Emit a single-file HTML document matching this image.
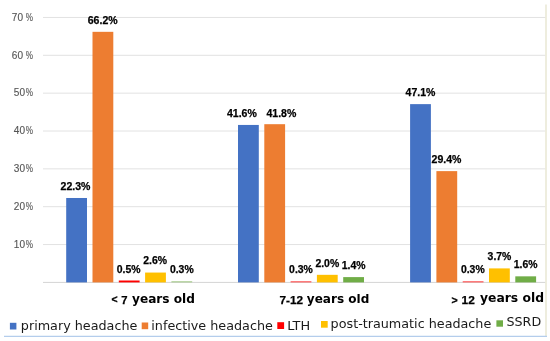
<!DOCTYPE html>
<html><head><meta charset="utf-8"><title>chart</title>
<style>
html,body{margin:0;padding:0;background:#fff;}
body{width:550px;height:341px;overflow:hidden;}
svg{display:block;}
.ax{font-family:"Liberation Sans",sans-serif;font-size:10.4px;fill:#555;stroke:#555;stroke-width:0.12px;}
.dl{font-family:"Liberation Sans",sans-serif;font-size:10.9px;font-weight:bold;fill:#000;stroke:#000;stroke-width:0.25px;text-anchor:middle;}
.cat{font-family:"DejaVu Sans","Liberation Sans",sans-serif;font-size:12.45px;font-weight:bold;fill:#000;}
.catn{font-family:"Liberation Sans",sans-serif;font-size:12px;font-weight:bold;fill:#000;stroke:#000;stroke-width:0.25px;}
.lg{font-family:"DejaVu Sans","Liberation Sans",sans-serif;font-size:12.75px;fill:#1a1a1a;}
</style></head><body>
<svg width="550" height="341" viewBox="0 0 550 341">
<rect width="550" height="341" fill="#fff"/>

<line x1="43" x2="545.5" y1="244.55" y2="244.55" stroke="#e2e2e2" stroke-width="1"/>
<line x1="43" x2="545.5" y1="206.70" y2="206.70" stroke="#e2e2e2" stroke-width="1"/>
<line x1="43" x2="545.5" y1="168.85" y2="168.85" stroke="#e2e2e2" stroke-width="1"/>
<line x1="43" x2="545.5" y1="131.00" y2="131.00" stroke="#e2e2e2" stroke-width="1"/>
<line x1="43" x2="545.5" y1="93.15" y2="93.15" stroke="#e2e2e2" stroke-width="1"/>
<line x1="43" x2="545.5" y1="55.30" y2="55.30" stroke="#e2e2e2" stroke-width="1"/>
<line x1="43" x2="545.5" y1="17.45" y2="17.45" stroke="#e2e2e2" stroke-width="1"/>
<line x1="43" x2="545.5" y1="282.4" y2="282.4" stroke="#d4d4d4" stroke-width="1"/>
<line x1="546" x2="546" y1="4.5" y2="336.2" stroke="#eae9d6" stroke-width="1.6"/>
<line x1="4" x2="547" y1="336.3" y2="336.3" stroke="#b4cdec" stroke-width="1.3"/>
<text class="ax" x="25.0" y="247.8" text-anchor="end" textLength="11.2" lengthAdjust="spacingAndGlyphs">10</text>
<text class="ax" x="25.7" y="247.8" textLength="7.2" lengthAdjust="spacingAndGlyphs">%</text>
<text class="ax" x="25.0" y="210.0" text-anchor="end" textLength="11.2" lengthAdjust="spacingAndGlyphs">20</text>
<text class="ax" x="25.7" y="210.0" textLength="7.2" lengthAdjust="spacingAndGlyphs">%</text>
<text class="ax" x="25.0" y="172.1" text-anchor="end" textLength="11.2" lengthAdjust="spacingAndGlyphs">30</text>
<text class="ax" x="25.7" y="172.1" textLength="7.2" lengthAdjust="spacingAndGlyphs">%</text>
<text class="ax" x="25.0" y="134.3" text-anchor="end" textLength="11.2" lengthAdjust="spacingAndGlyphs">40</text>
<text class="ax" x="25.7" y="134.3" textLength="7.2" lengthAdjust="spacingAndGlyphs">%</text>
<text class="ax" x="25.0" y="96.4" text-anchor="end" textLength="11.2" lengthAdjust="spacingAndGlyphs">50</text>
<text class="ax" x="25.7" y="96.4" textLength="7.2" lengthAdjust="spacingAndGlyphs">%</text>
<text class="ax" x="23.0" y="58.6" text-anchor="end" textLength="11.2" lengthAdjust="spacingAndGlyphs">60</text>
<text class="ax" x="25.7" y="58.6" textLength="7.2" lengthAdjust="spacingAndGlyphs">%</text>
<text class="ax" x="23.0" y="20.7" text-anchor="end" textLength="11.2" lengthAdjust="spacingAndGlyphs">70</text>
<text class="ax" x="25.7" y="20.7" textLength="7.2" lengthAdjust="spacingAndGlyphs">%</text>
<rect x="66.20" y="197.99" width="20.8" height="84.41" fill="#4472C4"/>
<text class="dl" x="75.5" y="189.8" textLength="29.9" lengthAdjust="spacingAndGlyphs">22.3%</text>
<rect x="92.50" y="31.83" width="20.8" height="250.57" fill="#ED7D31"/>
<text class="dl" x="102.7" y="23.6" textLength="29.9" lengthAdjust="spacingAndGlyphs">66.2%</text>
<rect x="118.80" y="280.51" width="20.8" height="1.89" fill="#FF0000"/>
<text class="dl" x="128.7" y="272.6" textLength="23.8" lengthAdjust="spacingAndGlyphs">0.5%</text>
<rect x="145.10" y="272.56" width="20.8" height="9.84" fill="#FFC000"/>
<text class="dl" x="155.2" y="264.1" textLength="23.8" lengthAdjust="spacingAndGlyphs">2.6%</text>
<rect x="171.40" y="281.26" width="20.8" height="1.14" fill="#a6cb8b"/>
<text class="dl" x="181.8" y="273.0" textLength="23.8" lengthAdjust="spacingAndGlyphs">0.3%</text>
<rect x="238.00" y="124.94" width="20.8" height="157.46" fill="#4472C4"/>
<text class="dl" x="241.9" y="117.3" textLength="29.9" lengthAdjust="spacingAndGlyphs">41.6%</text>
<rect x="264.30" y="124.19" width="20.8" height="158.21" fill="#ED7D31"/>
<text class="dl" x="281.4" y="117.3" textLength="29.9" lengthAdjust="spacingAndGlyphs">41.8%</text>
<rect x="290.60" y="281.26" width="20.8" height="1.14" fill="#ff4d4d"/>
<text class="dl" x="301.0" y="273.3" textLength="23.8" lengthAdjust="spacingAndGlyphs">0.3%</text>
<rect x="316.90" y="274.83" width="20.8" height="7.57" fill="#FFC000"/>
<text class="dl" x="327.3" y="266.8" textLength="23.8" lengthAdjust="spacingAndGlyphs">2.0%</text>
<rect x="343.20" y="277.10" width="20.8" height="5.30" fill="#70AD47"/>
<text class="dl" x="353.6" y="269.1" textLength="23.8" lengthAdjust="spacingAndGlyphs">1.4%</text>
<rect x="410.10" y="104.13" width="20.8" height="178.27" fill="#4472C4"/>
<text class="dl" x="420.5" y="96.4" textLength="29.9" lengthAdjust="spacingAndGlyphs">47.1%</text>
<rect x="436.40" y="171.12" width="20.8" height="111.28" fill="#ED7D31"/>
<text class="dl" x="446.5" y="162.8" textLength="29.9" lengthAdjust="spacingAndGlyphs">29.4%</text>
<rect x="462.70" y="281.26" width="20.8" height="1.14" fill="#ff4d4d"/>
<text class="dl" x="472.8" y="273.1" textLength="23.8" lengthAdjust="spacingAndGlyphs">0.3%</text>
<rect x="489.00" y="268.40" width="20.8" height="14.00" fill="#FFC000"/>
<text class="dl" x="499.5" y="260.1" textLength="23.8" lengthAdjust="spacingAndGlyphs">3.7%</text>
<rect x="515.30" y="276.34" width="20.8" height="6.06" fill="#70AD47"/>
<text class="dl" x="525.6" y="267.8" textLength="23.8" lengthAdjust="spacingAndGlyphs">1.6%</text>
<text class="catn" x="111.4" y="303.4" style="font-size:10.4px">&lt;</text><text class="catn" x="121.3" y="303.7" style="font-size:11.3px">7</text><text class="cat" x="132" y="303.2" style="font-size:12.15px">years old</text>
<text class="catn" x="279.4" y="303.5" style="font-size:11.8px">7-12</text><text class="cat" x="306.8" y="303.3" style="font-size:12.05px">years old</text>
<text class="catn" x="451.4" y="303.9" style="font-size:10.6px">&gt;</text><text class="catn" x="461.6" y="304" style="font-size:11.4px" textLength="13.2" lengthAdjust="spacingAndGlyphs">12</text><text class="cat" x="480" y="301.9" style="font-size:12.35px">years old</text>
<rect x="9.9" y="322.8" width="6.5" height="6.7" fill="#4472C4"/><text class="lg" x="20.8" y="329.7">primary headache</text>
<rect x="141.7" y="322.5" width="6.5" height="6.7" fill="#ED7D31"/><text class="lg" x="151.3" y="329.7">infective headache</text>
<rect x="277.3" y="322.2" width="6.8" height="6.8" fill="#FF0000"/><text class="lg" x="287.2" y="329.8" style="font-size:12.9px">LTH</text>
<rect x="321" y="321" width="6.7" height="6.7" fill="#FFC000"/><text class="lg" x="330.6" y="328.4">post-traumatic headache</text>
<rect x="496.4" y="320.3" width="6.6" height="6.4" fill="#70AD47"/><text class="lg" x="506.5" y="325.9" style="font-size:12.7px">SSRD</text>
</svg></body></html>
